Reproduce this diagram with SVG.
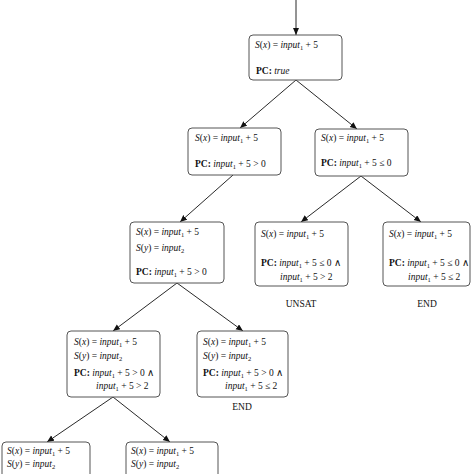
<svg xmlns="http://www.w3.org/2000/svg" width="474" height="474" viewBox="0 0 474 474">
<defs>
<style>
.box{fill:#fff;stroke:#555;stroke-width:1}
text{font-family:"Liberation Serif","Times New Roman",serif;font-size:9.5px;fill:#111}
.i{font-style:italic}
.b{font-weight:bold}
.sub{font-size:6.5px}
.lab{font-size:9.5px;text-anchor:middle}
.edge{stroke:#111;stroke-width:0.9;fill:none;marker-end:url(#ah)}
</style>
<marker id="ah" markerUnits="userSpaceOnUse" markerWidth="8" markerHeight="8" refX="7" refY="3" orient="auto">
<path d="M0,0 L7,3 L0,6 Z" fill="#111"/>
</marker>
</defs>
<rect width="474" height="474" fill="#fff"/>
<g id="connectors">
<line class="edge" x1="296" y1="0" x2="296" y2="35"/>
<line class="edge" x1="296" y1="80" x2="240" y2="128"/>
<line class="edge" x1="296" y1="80" x2="357" y2="129"/>
<line class="edge" x1="233" y1="175" x2="180" y2="222"/>
<line class="edge" x1="361" y1="176" x2="301" y2="222"/>
<line class="edge" x1="361" y1="176" x2="421" y2="222"/>
<line class="edge" x1="177" y1="283" x2="113" y2="331"/>
<line class="edge" x1="177" y1="283" x2="243" y2="331"/>
<line class="edge" x1="113" y1="397" x2="47" y2="442"/>
<line class="edge" x1="113" y1="397" x2="170" y2="442"/>
</g>
<g id="n1">
<rect class="box" x="249" y="35" width="93" height="45" rx="4"/>
<text x="255" y="48"><tspan class="i">S</tspan>(<tspan class="i">x</tspan>) = <tspan class="i">input</tspan><tspan class="sub" dy="2">1</tspan><tspan dy="-2"> + 5</tspan></text>
<text x="256" y="74"><tspan class="b">PC:</tspan> <tspan class="i">true</tspan></text>
</g>
<g id="n2">
<rect class="box" x="188" y="128" width="93" height="47" rx="4"/>
<text x="195" y="141"><tspan class="i">S</tspan>(<tspan class="i">x</tspan>) = <tspan class="i">input</tspan><tspan class="sub" dy="2">1</tspan><tspan dy="-2"> + 5</tspan></text>
<text x="195" y="167"><tspan class="b">PC:</tspan> <tspan class="i">input</tspan><tspan class="sub" dy="2">1</tspan><tspan dy="-2"> + 5 &gt; 0</tspan></text>
</g>
<g id="n3">
<rect class="box" x="315" y="129" width="93" height="47" rx="4"/>
<text x="321" y="141"><tspan class="i">S</tspan>(<tspan class="i">x</tspan>) = <tspan class="i">input</tspan><tspan class="sub" dy="2">1</tspan><tspan dy="-2"> + 5</tspan></text>
<text x="321" y="166"><tspan class="b">PC:</tspan> <tspan class="i">input</tspan><tspan class="sub" dy="2">1</tspan><tspan dy="-2"> + 5 ≤ 0</tspan></text>
</g>
<g id="n4">
<rect class="box" x="130" y="222" width="94" height="61" rx="4"/>
<text x="136" y="235"><tspan class="i">S</tspan>(<tspan class="i">x</tspan>) = <tspan class="i">input</tspan><tspan class="sub" dy="2">1</tspan><tspan dy="-2"> + 5</tspan></text>
<text x="136" y="251"><tspan class="i">S</tspan>(<tspan class="i">y</tspan>) = <tspan class="i">input</tspan><tspan class="sub" dy="2">2</tspan></text>
<text x="136" y="275"><tspan class="b">PC:</tspan> <tspan class="i">input</tspan><tspan class="sub" dy="2">1</tspan><tspan dy="-2"> + 5 &gt; 0</tspan></text>
</g>
<g id="n5">
<rect class="box" x="255" y="222" width="93" height="64" rx="4"/>
<text x="261" y="237"><tspan class="i">S</tspan>(<tspan class="i">x</tspan>) = <tspan class="i">input</tspan><tspan class="sub" dy="2">1</tspan><tspan dy="-2"> + 5</tspan></text>
<text x="261" y="266"><tspan class="b">PC:</tspan> <tspan class="i">input</tspan><tspan class="sub" dy="2">1</tspan><tspan dy="-2"> + 5 ≤ 0 ∧</tspan></text>
<text x="280" y="280"><tspan class="i">input</tspan><tspan class="sub" dy="2">1</tspan><tspan dy="-2"> + 5 &gt; 2</tspan></text>
<text class="lab" x="301" y="307">UNSAT</text>
</g>
<g id="n6">
<rect class="box" x="383" y="222" width="87" height="64" rx="4"/>
<text x="389" y="237"><tspan class="i">S</tspan>(<tspan class="i">x</tspan>) = <tspan class="i">input</tspan><tspan class="sub" dy="2">1</tspan><tspan dy="-2"> + 5</tspan></text>
<text x="389" y="266"><tspan class="b">PC:</tspan> <tspan class="i">input</tspan><tspan class="sub" dy="2">1</tspan><tspan dy="-2"> + 5 ≤ 0 ∧</tspan></text>
<text x="408" y="280"><tspan class="i">input</tspan><tspan class="sub" dy="2">1</tspan><tspan dy="-2"> + 5 ≤ 2</tspan></text>
<text class="lab" x="427" y="307">END</text>
</g>
<g id="n7">
<rect class="box" x="67" y="331" width="93" height="66" rx="4"/>
<text x="74" y="345"><tspan class="i">S</tspan>(<tspan class="i">x</tspan>) = <tspan class="i">input</tspan><tspan class="sub" dy="2">1</tspan><tspan dy="-2"> + 5</tspan></text>
<text x="74" y="359"><tspan class="i">S</tspan>(<tspan class="i">y</tspan>) = <tspan class="i">input</tspan><tspan class="sub" dy="2">2</tspan></text>
<text x="74" y="376"><tspan class="b">PC:</tspan> <tspan class="i">input</tspan><tspan class="sub" dy="2">1</tspan><tspan dy="-2"> + 5 &gt; 0 ∧</tspan></text>
<text x="96" y="389"><tspan class="i">input</tspan><tspan class="sub" dy="2">1</tspan><tspan dy="-2"> + 5 &gt; 2</tspan></text>
</g>
<g id="n8">
<rect class="box" x="197" y="331" width="91" height="66" rx="4"/>
<text x="203" y="345"><tspan class="i">S</tspan>(<tspan class="i">x</tspan>) = <tspan class="i">input</tspan><tspan class="sub" dy="2">1</tspan><tspan dy="-2"> + 5</tspan></text>
<text x="203" y="359"><tspan class="i">S</tspan>(<tspan class="i">y</tspan>) = <tspan class="i">input</tspan><tspan class="sub" dy="2">2</tspan></text>
<text x="203" y="376"><tspan class="b">PC:</tspan> <tspan class="i">input</tspan><tspan class="sub" dy="2">1</tspan><tspan dy="-2"> + 5 &gt; 0 ∧</tspan></text>
<text x="225" y="389"><tspan class="i">input</tspan><tspan class="sub" dy="2">1</tspan><tspan dy="-2"> + 5 ≤ 2</tspan></text>
<text class="lab" x="242" y="410">END</text>
</g>
<g id="n9">
<rect class="box" x="2" y="442" width="88" height="40" rx="4"/>
<text x="7" y="454"><tspan class="i">S</tspan>(<tspan class="i">x</tspan>) = <tspan class="i">input</tspan><tspan class="sub" dy="2">1</tspan><tspan dy="-2"> + 5</tspan></text>
<text x="7" y="467"><tspan class="i">S</tspan>(<tspan class="i">y</tspan>) = <tspan class="i">input</tspan><tspan class="sub" dy="2">2</tspan></text>
</g>
<g id="n10">
<rect class="box" x="126" y="442" width="92" height="40" rx="4"/>
<text x="131" y="454"><tspan class="i">S</tspan>(<tspan class="i">x</tspan>) = <tspan class="i">input</tspan><tspan class="sub" dy="2">1</tspan><tspan dy="-2"> + 5</tspan></text>
<text x="131" y="467"><tspan class="i">S</tspan>(<tspan class="i">y</tspan>) = <tspan class="i">input</tspan><tspan class="sub" dy="2">2</tspan></text>
</g>
</svg>
